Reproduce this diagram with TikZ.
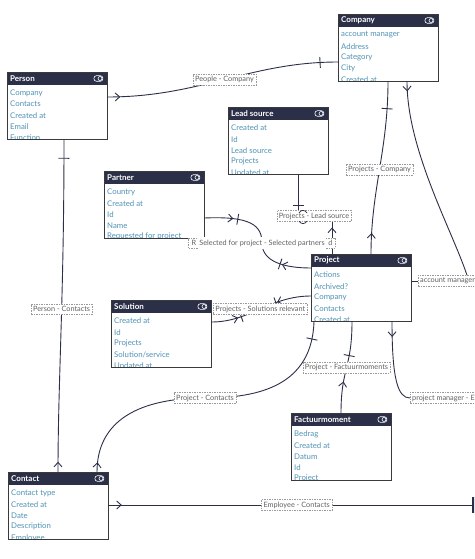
\documentclass[tikz,border=0pt]{standalone}
\usepackage{fontspec}
\setmainfont{Lato}
\usetikzlibrary{calc}
\definecolor{hdcol}{HTML}{2B3048}
\definecolor{rowcol}{HTML}{4F93B5}
\definecolor{conncol}{HTML}{2B3048}
\definecolor{lblborder}{HTML}{9A9A9A}
\definecolor{lbltext}{HTML}{606060}
\definecolor{boxcol}{HTML}{3A3A3A}
\tikzset{
  ebox/.style={rectangle, minimum width=100pt, minimum height=67pt, inner sep=0pt, anchor=north west, fill=white},
  htext/.style={text=white, font=\fontsize{8}{9}\selectfont\bfseries, inner sep=0pt, anchor=west},
  rtext/.style={text=rowcol, font=\fontsize{7.8}{9}\selectfont, inner sep=0pt, anchor=west},
  conn/.style={draw=conncol, line width=0.9pt},
  lbl/.style={draw=lblborder, dash pattern=on 1.5pt off 1pt, line width=0.4pt, fill=white, text=lbltext, font=\fontsize{7.3}{8}\selectfont, inner xsep=2pt, inner ysep=2.2pt},
  crow/.pic={\draw[conn] (-4.5,-4) -- (0,0) -- (-4.5,4);},
  rcrow/.pic={\draw[conn] (4.5,-4) -- (0,0) -- (4.5,4);},
  bar/.pic={\draw[conn] (0,-5.5) -- (0,5.5);},
  on/.style={sloped, allow upside down, pos=#1},
}
\newcommand\erent[5]{%
  \node[ebox] (#1) at (#2,#3) {};
  \fill[hdcol] (#1.north west) rectangle ($(#1.north east)+(0,13)$);
  \node[htext] (#1-t) at ($(#1.north west)+(3,6.5)$) {#4};
  \coordinate (#1-i) at ($(#1.north east)+(-9,6.5)$);
  \draw[white, line width=0.6pt, rounded corners=2.6pt] ($(#1-i)+(-4.5,-2.8)$) rectangle ($(#1-i)+(4.5,2.8)$);
  \draw[white, line width=0.6pt] ($(#1-i)+(1.6,0)$) circle (2pt);
  \begin{scope}
    \clip (#1.north west) rectangle (#1.south east);
    \foreach \r [count=\i] in {#5} {\node[rtext] (#1-r\i) at ($(#1.north west)+(3,9.8+11.2*\i)$) {\r};}
  \end{scope}
  \draw[draw=boxcol, line width=0.6pt] (#1.north west) rectangle (#1.south east);
}
\begin{document}
\begin{tikzpicture}[x=1pt, y=-1pt]
\useasboundingbox (0,0) rectangle (474,559);
\clip (0,0) rectangle (474,559);
\fill[white] (0,0) rectangle (474,559);

% entities
\erent{person}{7}{72}{Person}{Company,Contacts,Created at,Email,Function}
\erent{company}{338}{14}{Company}{account manager,Address,Category,City,Created at}
\erent{lead}{228}{107}{Lead source}{Created at,Id,Lead source,Projects,Updated at}
\erent{partner}{104}{171}{Partner}{Country,Created at,Id,Name,Requested for project}
\erent{project}{311}{254}{Project}{Actions,Archived?,Company,Contacts,Created at}
\erent{solution}{111}{300}{Solution}{Created at,Id,Projects,Solution/service,Updated at}
\erent{factuur}{291}{413}{Factuurmoment}{Bedrag,Created at,Datum,Id,Project}
\erent{contact}{8}{472}{Contact}{Contact type,Created at,Date,Description,Employee}

\node[fill=hdcol, minimum width=6pt, minimum height=16pt, inner sep=0pt] (emp) at (475,505) {};

% People - Company
\draw[conn] (person.east |- 0,97) .. controls (200,97) and (250,62) .. (company.west |- 0,62)
  pic[on=0.045]{crow} pic[on=0.93]{bar} node[lbl, pos=0.5] (l1) {People - Company};

% Person - Contacts
\draw[conn] (person.south -| 64,0) .. controls (64,300) and (58,380) .. (contact.north -| 58,0)
  pic[on=0.04]{bar} pic[on=0.965]{rcrow} node[lbl, pos=0.43] (l2) {Person - Contacts};

% Project - Contacts
\draw[conn] (project.south -| 314,0) .. controls (312,385) and (260,398) .. (205,398)
  pic[on=0.1]{bar} node[lbl, pos=1] (l3) {Project - Contacts}
  .. controls (140,398) and (97,420) .. (contact.north -| 97,0) pic[on=0.94]{rcrow};

% Projects - Company
\draw[conn] (project.north -| 371,0) .. controls (371,190) and (388,150) .. (company.south -| 388,0)
  pic[on=0.11]{crow} pic[on=0.86]{bar} node[lbl, pos=0.5] (l4) {Projects - Company};

% account manager
\node[lbl, anchor=west] (am) at (418,281) {account manager - Projects};
\draw[conn] (project.east |- 0,281) -- (am.west);
\draw[conn] (am.north -| 467,0) .. controls (452,230) and (407,150) .. (company.south -| 407,0)
  pic[on=0.955]{rcrow};

% Projects - Lead source
\node[lbl] (l6) at (314,216) {Projects - Lead source};
\draw[conn] (lead.south -| 298,0) -- (l6.north -| 298,0) pic[on=0.88]{bar};
\draw[conn] (project.north -| 332,0) -- (l6.south -| 332,0) pic[on=0.8]{crow};
\draw[conn, line width=0.7pt] (299,213) .. controls (301,209.5) and (305,209.5) .. (307,213);
\draw[conn, line width=0.7pt] (299,221) .. controls (301,224.5) and (305,224.5) .. (307,221);

% Partner - Project
\draw[conn] (partner.east |- 0,218) .. controls (250,216) and (262,225) .. (262,243)
  pic[on=0.25]{crow} pic[on=0.31]{bar}
  node[lbl, pos=1, minimum width=147pt, text width=141pt] (l7b) {R\hfill d}
  node[lbl, pos=1, draw=none, inner xsep=1pt] (l7) {Selected for project - Selected partners}
  .. controls (262,262) and (285,268) .. (project.west |- 0,268)
  pic[on=0.56]{bar} pic[on=0.6]{rcrow};

% Projects - Solutions relevant
\draw[conn] (solution.east |- 0,322) .. controls (250,322) and (270,296) .. (project.west |- 0,296)
  pic[on=0.25]{crow} pic[on=0.29]{bar} pic[on=0.67]{bar} pic[on=0.69]{rcrow}
  node[lbl, pos=0.5] (l8) {Projects - Solutions relevant};

% Project - Factuurmoments
\draw[conn] (project.south -| 352,0) .. controls (352,368) and (341,368) .. (factuur.north -| 341,0)
  pic[on=0.33]{bar} pic[on=0.7]{rcrow} node[lbl, pos=0.5] (l9) {Project - Factuurmoments};

% project manager
\node[lbl, anchor=west] (pm) at (410,398) {project manager - Employee};
\draw[conn] (project.south -| 392,0) .. controls (392,380) and (398,398) .. (pm.west)
  pic[on=0.09]{crow};

% Employee - Contacts
\draw[conn] (contact.east |- 0,505) -- (emp.west)
  pic[on=0.035]{crow} node[lbl, pos=0.518] (l11) {Employee - Contacts};
\end{tikzpicture}
\end{document}
